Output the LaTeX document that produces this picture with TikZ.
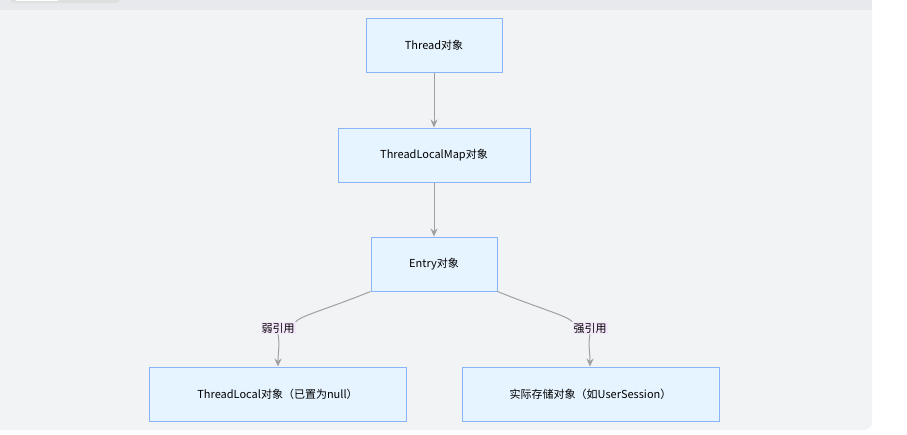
\documentclass[tikz,border=0pt]{standalone}
\usepackage{fontspec}
\setmainfont{Noto Sans CJK SC}
\usetikzlibrary{positioning,arrows.meta}
\definecolor{panelbg}{HTML}{F2F3F5}
\definecolor{topbar}{HTML}{E8E9EC}
\definecolor{boxfill}{HTML}{E6F4FF}
\definecolor{boxline}{HTML}{8AB4F8}
\definecolor{linkgray}{HTML}{A0A0A0}
\definecolor{lblbg}{HTML}{F3E8FA}
\tikzset{
	box/.style={draw=boxline, fill=boxfill, line width=1pt, minimum height=54pt, font=\fontsize{11}{13}\selectfont, inner sep=0pt},
	link/.style={draw=linkgray, line width=1pt},
	tip/.style={link, -{Stealth[length=8pt,width=7pt]}},
	edgelabel/.style={fill=lblbg, inner sep=1pt, font=\fontsize{11}{13}\selectfont},
}
\begin{document}
\begin{tikzpicture}[x=1pt, y=-1pt]
	
	% ------------------------------------------------
	% Page frame
	\useasboundingbox (0,0) rectangle (907,434);
	\fill[white] (0,0) rectangle (907,434);
	\fill[panelbg, rounded corners=8pt] (-10,0) rectangle (872,430);
	\fill[topbar] (0,0) rectangle (872,10);
	\fill[gray!25, rounded corners=4pt] (10,-6) rectangle (120,3);
	\fill[white] (16,-6) rectangle (58,1);
	
	% ------------------------------------------------
	% Nodes
	\node[box, minimum width=136pt] (Thread) at (434,45) {Thread对象};
	\node[box, minimum width=192pt] (Map) at (434,155) {ThreadLocalMap对象};
	\node[box, minimum width=126pt] (Entry) at (434,264) {Entry对象};
	\node[box, minimum width=257pt] (Local) at (277.5,394) {ThreadLocal对象（已置为null）};
	\node[box, minimum width=257pt] (Store) at (590.5,394) {实际存储对象（如UserSession）};
	
	% Edge labels
	\node[edgelabel] (Weak) at (278,328) {弱引用};
	\node[edgelabel] (Strong) at (590,328) {强引用};
	
	% ------------------------------------------------
	% Connectors
	\draw[tip] (Thread) -- (Map);
	\draw[tip] (Map) -- (Entry);
	\draw[link] (Entry.south west) .. controls (330,308) and (300,316) .. (Weak.north east);
	\draw[tip] (Weak.south) .. controls (280,345) and (278,352) .. (Local.north -| Weak);
	\draw[link] (Entry.south east) .. controls (538,308) and (568,316) .. (Strong.north west);
	\draw[tip] (Strong.south) .. controls (588,345) and (590,352) .. (Store.north -| Strong);
	
\end{tikzpicture}
\end{document}
